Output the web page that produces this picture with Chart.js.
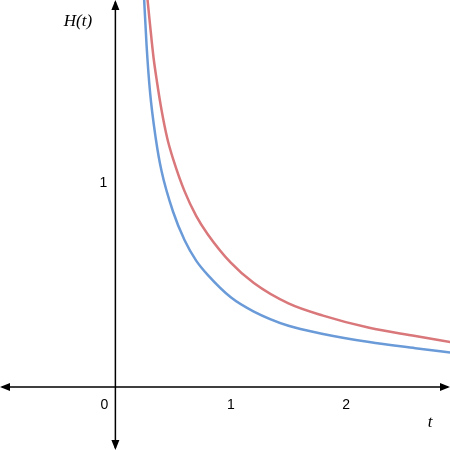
<!DOCTYPE html>
<html>
<head>
<script src="https://cdn.jsdelivr.net/npm/chart.js@4/dist/chart.umd.min.js"></script>
<style>html,body{margin:0;padding:0;background:#fff}#wrap{width:450px;height:450px}</style>
</head>
<body>
<div id="wrap"><canvas id="c"></canvas></div>
<script>
let blueT = [0.245,0.27,0.3,0.35,0.4,0.5,0.6,0.7,0.8,1,1.2,1.5,1.8,2.2,2.6,2.95];
let blueH = [1.95,1.68,1.45,1.22,1.06,0.86,0.72,0.62,0.55,0.44,0.37,0.3,0.26,0.22,0.19,0.165];
let redT = [0.27,0.3,0.33,0.36,0.4,0.45,0.5,0.6,0.7,0.8,1,1.2,1.5,1.8,2.2,2.6,2.95];
let redH = [1.95,1.78,1.62,1.5,1.36,1.22,1.12,0.96,0.84,0.75,0.61,0.51,0.41,0.35,0.29,0.25,0.215];
let xTicks = [1,2];
let yTicks = [1];

let toPts = (ts,hs) => ts.map((t,i) => ({x:t,y:hs[i]}));

let axesPlugin = {
    id:'axes',
    afterDraw(chart){
        let ctx = chart.ctx, x = chart.scales.x, y = chart.scales.y;
        let x0 = x.getPixelForValue(0), y0 = y.getPixelForValue(0);
        ctx.save();
        ctx.strokeStyle = '#000'; ctx.fillStyle = '#000'; ctx.lineWidth = 1.5;
        ctx.beginPath();
        ctx.moveTo(2,y0); ctx.lineTo(448,y0);
        ctx.moveTo(x0,448); ctx.lineTo(x0,2);
        ctx.stroke();
        let arrow = (px,py,dx,dy) => {
            ctx.beginPath();
            ctx.moveTo(px,py);
            ctx.lineTo(px-dx*10-dy*4, py-dy*10-dx*4);
            ctx.lineTo(px-dx*10+dy*4, py-dy*10+dx*4);
            ctx.closePath(); ctx.fill();
        };
        arrow(0,y0,-1,0); arrow(450,y0,1,0); arrow(x0,450,0,1); arrow(x0,0,0,-1);
        ctx.font = '14px "Liberation Sans", Arial';
        ctx.textAlign = 'center'; ctx.textBaseline = 'top';
        ctx.fillText('0', x0-11, y0+11);
        xTicks.forEach(v => ctx.fillText(String(v), x.getPixelForValue(v), y0+11));
        ctx.textAlign = 'right'; ctx.textBaseline = 'middle';
        yTicks.forEach(v => ctx.fillText(String(v), x0-8, y.getPixelForValue(v)));
        ctx.font = 'italic 17px "Liberation Serif", serif';
        ctx.textAlign = 'center';
        ctx.fillText('H(t)', 78, 22);
        ctx.fillText('t', 430, 423);
        ctx.restore();
    }
};

new Chart(document.getElementById('c'), {
    type:'scatter',
    data:{
        datasets:[
            {data:toPts(redT,redH), borderColor:'#d9777a', showLine:true, pointRadius:0, borderWidth:2.5, cubicInterpolationMode:'monotone'},
            {data:toPts(blueT,blueH), borderColor:'#6a9bd8', showLine:true, pointRadius:0, borderWidth:2.5, cubicInterpolationMode:'monotone'}
        ]
    },
    options:{
        responsive:true, maintainAspectRatio:false, animation:false,
        layout:{padding:0},
        plugins:{legend:{display:false}, tooltip:{enabled:false}},
        scales:{
            x:{type:'linear', min:-1, max:2.9, display:false},
            y:{type:'linear', min:-0.31, max:1.9, display:false}
        }
    },
    plugins:[axesPlugin]
});
</script>
</body>
</html>
